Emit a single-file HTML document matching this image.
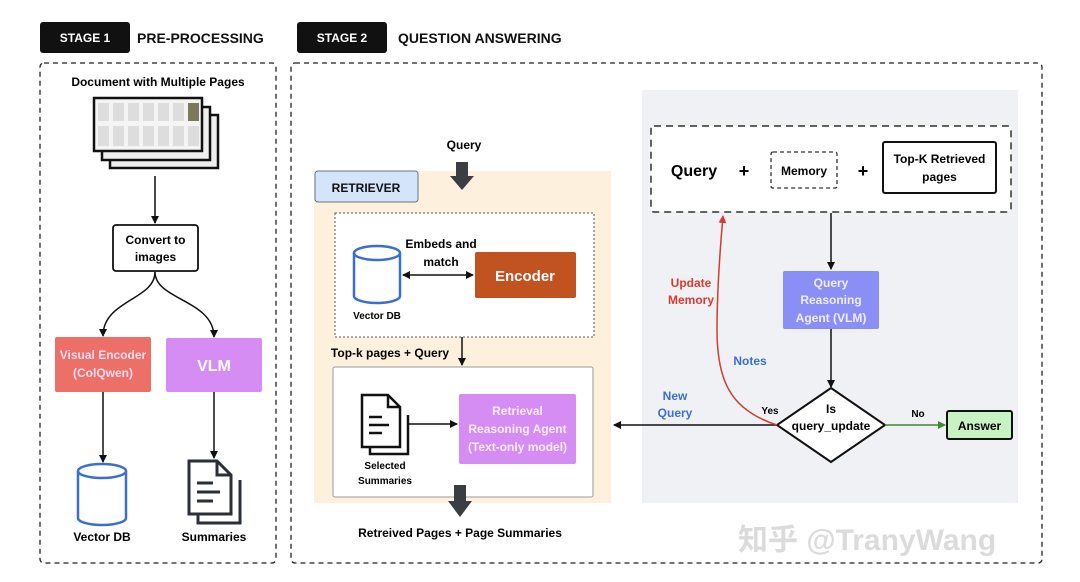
<!DOCTYPE html>
<html><head><meta charset="utf-8"><style>
html,body{margin:0;padding:0;background:#fff}
svg{display:block}
text{font-family:"Liberation Sans","Noto Sans CJK SC",sans-serif;font-weight:bold}
</style></head><body>
<svg width="1080" height="582" viewBox="0 0 1080 582" xmlns="http://www.w3.org/2000/svg">
<defs>
<marker id="a" markerWidth="8" markerHeight="8" refX="7" refY="4" orient="auto" markerUnits="userSpaceOnUse"><path d="M0,0 L8,4 L0,8 z" fill="#111"/></marker>
<marker id="ar" markerWidth="8" markerHeight="8" refX="7" refY="4" orient="auto" markerUnits="userSpaceOnUse"><path d="M0,0 L8,4 L0,8 z" fill="#d63b30"/></marker>
<marker id="ag" markerWidth="8" markerHeight="8" refX="7" refY="4" orient="auto" markerUnits="userSpaceOnUse"><path d="M0,0 L8,4 L0,8 z" fill="#3a8a2e"/></marker>
<marker id="as" markerWidth="8" markerHeight="8" refX="1" refY="4" orient="auto" markerUnits="userSpaceOnUse"><path d="M8,0 L0,4 L8,8 z" fill="#111"/></marker>
</defs>
<rect x="40" y="22" width="90" height="31" rx="3" fill="#111"/>
<text x="85" y="42" fill="#fff" font-size="12" text-anchor="middle">STAGE 1</text>
<text x="137" y="43" font-size="14" fill="#111">PRE-PROCESSING</text>
<rect x="297" y="22" width="90" height="31" rx="3" fill="#111"/>
<text x="342" y="42" fill="#fff" font-size="12" text-anchor="middle">STAGE 2</text>
<text x="398" y="43" font-size="14" fill="#111">QUESTION ANSWERING</text>
<rect x="40" y="63" width="236" height="500" rx="4" fill="none" stroke="#222" stroke-width="1.3" stroke-dasharray="5,4"/>
<rect x="291" y="63" width="751" height="500" rx="4" fill="none" stroke="#222" stroke-width="1.3" stroke-dasharray="5,4"/>
<text x="158" y="86" font-size="12" text-anchor="middle">Document with Multiple Pages</text>
<rect x="110" y="115" width="108" height="53" fill="#eee" stroke="#111" stroke-width="2.5"/>
<rect x="102" y="107" width="108" height="53" fill="#eee" stroke="#111" stroke-width="2.5"/>
<rect x="94" y="98" width="108" height="53" fill="#f4f4f4" stroke="#111" stroke-width="2.5"/>
<g fill="#ddd"><rect x="98" y="103" width="11" height="18"/><rect x="113" y="103" width="11" height="18"/><rect x="128" y="103" width="11" height="18"/><rect x="143" y="103" width="11" height="18"/><rect x="158" y="103" width="11" height="18"/><rect x="173" y="103" width="11" height="18"/><rect x="188" y="103" width="11" height="18" fill="#7a7a5a"/>
<rect x="98" y="126" width="11" height="20"/><rect x="113" y="126" width="11" height="20"/><rect x="128" y="126" width="11" height="20"/><rect x="143" y="126" width="11" height="20"/><rect x="158" y="126" width="11" height="20"/><rect x="173" y="126" width="11" height="20"/><rect x="188" y="126" width="11" height="20"/></g>
<line x1="155" y1="176" x2="155" y2="223" stroke="#111" stroke-width="1.5" marker-end="url(#a)"/>
<rect x="113" y="225" width="85" height="46" rx="3" fill="#fff" stroke="#111" stroke-width="1.8"/>
<text x="155.5" y="244" font-size="12" text-anchor="middle">Convert to</text>
<text x="155.5" y="261" font-size="12" text-anchor="middle">images</text>
<path d="M155,272 C155,300 103,300 103,336" fill="none" stroke="#111" stroke-width="1.5" marker-end="url(#a)"/>
<path d="M155,272 C155,300 214,300 214,337" fill="none" stroke="#111" stroke-width="1.5" marker-end="url(#a)"/>
<rect x="55" y="337" width="96" height="55" rx="2" fill="#ec6f68"/>
<text x="103" y="359" font-size="12" fill="#fde" text-anchor="middle">Visual Encoder</text>
<text x="103" y="377" font-size="12" fill="#fde" text-anchor="middle">(ColQwen)</text>
<rect x="166" y="338" width="96" height="54" rx="2" fill="#d58cf3"/>
<text x="214" y="371" font-size="16" fill="#fff" text-anchor="middle">VLM</text>
<line x1="103" y1="392" x2="103" y2="462" stroke="#111" stroke-width="1.5" marker-end="url(#a)"/>
<line x1="214" y1="392" x2="214" y2="458" stroke="#111" stroke-width="1.5" marker-end="url(#a)"/>
<g fill="#fff" stroke="#3a6fd0" stroke-width="2.5"><path d="M78,471 L78,518 A24,7 0 0 0 126,518 L126,471"/><ellipse cx="102" cy="471" rx="24" ry="7"/></g>
<text x="102" y="541" font-size="12" text-anchor="middle">Vector DB</text>
<g fill="none" stroke="#2a2f38" stroke-width="3"><path d="M198,470 L198,523 L240,523 L240,480"/><path d="M189,461 L217,461 L231,475 L231,514 L189,514 Z" fill="#fff"/><path d="M217,461 L217,475 L231,475"/><line x1="197" y1="483" x2="213" y2="483"/><line x1="197" y1="492" x2="220" y2="492"/><line x1="197" y1="501" x2="213" y2="501"/></g>
<text x="214" y="541" font-size="12" text-anchor="middle">Summaries</text>
<text x="464" y="149" font-size="12" text-anchor="middle">Query</text>
<rect x="314" y="171" width="297" height="332" fill="#fdf1de"/>
<rect x="456" y="162" width="12" height="16" fill="#3a3d42"/><path d="M450,176 L474,176 L462,190 z" fill="#3a3d42"/>
<rect x="315" y="171" width="103" height="31" rx="3" fill="#d4e4fb" stroke="#6b7380" stroke-width="1"/>
<text x="366" y="192" font-size="12" text-anchor="middle" fill="#111">RETRIEVER</text>
<rect x="335" y="213" width="259" height="124" fill="#fff" stroke="#555" stroke-width="1" stroke-dasharray="2,2"/>
<g fill="#fff" stroke="#3a6fd0" stroke-width="2.5"><path d="M354,253 L354,296 A23,7 0 0 0 400,296 L400,253"/><ellipse cx="377" cy="253" rx="23" ry="7"/></g>
<text x="377" y="319" font-size="10" text-anchor="middle">Vector DB</text>
<text x="441" y="248" font-size="12" text-anchor="middle">Embeds and</text>
<text x="441" y="266" font-size="12" text-anchor="middle">match</text>
<line x1="403" y1="275" x2="473" y2="275" stroke="#111" stroke-width="1.5" marker-end="url(#a)" marker-start="url(#as)"/>
<rect x="475" y="252" width="101" height="46" rx="2" fill="#c0531f"/>
<text x="525" y="281" font-size="15" fill="#fff" text-anchor="middle">Encoder</text>
<line x1="462" y1="337" x2="462" y2="365" stroke="#111" stroke-width="1.5" marker-end="url(#a)"/>
<text x="390" y="357" font-size="12" text-anchor="middle">Top-k pages + Query</text>
<rect x="333" y="367" width="260" height="130" rx="2" fill="#fff" stroke="#999" stroke-width="1"/>
<g fill="none" stroke="#111" stroke-width="2.5"><path d="M370,403 L370,454 L408,454 L408,415"/><path d="M362,395 L388,395 L400,407 L400,447 L362,447 Z" fill="#fff"/><path d="M388,395 L388,407 L400,407"/><line x1="369" y1="417" x2="382" y2="417"/><line x1="369" y1="425" x2="389" y2="425"/><line x1="369" y1="433" x2="382" y2="433"/></g>
<text x="385" y="469" font-size="10" text-anchor="middle">Selected</text>
<text x="385" y="484" font-size="10" text-anchor="middle">Summaries</text>
<line x1="409" y1="424" x2="457" y2="424" stroke="#111" stroke-width="1.5" marker-end="url(#a)"/>
<rect x="459" y="394" width="117" height="70" rx="2" fill="#d58cf3"/>
<text x="517.5" y="415" font-size="12" fill="#fbeefe" text-anchor="middle">Retrieval</text>
<text x="517.5" y="433" font-size="12" fill="#fbeefe" text-anchor="middle">Reasoning Agent</text>
<text x="517.5" y="451" font-size="12" fill="#fbeefe" text-anchor="middle">(Text-only model)</text>
<rect x="454" y="485" width="12" height="18" fill="#3a3d42"/><path d="M448,501 L472,501 L460,517 z" fill="#3a3d42"/>
<text x="460" y="537" font-size="12" text-anchor="middle">Retreived Pages + Page Summaries</text>
<rect x="642" y="90" width="376" height="413" fill="#f0f1f4"/>
<rect x="651" y="126" width="360" height="86" rx="3" fill="#fff" stroke="#333" stroke-width="1.5" stroke-dasharray="7,5"/>
<text x="694" y="176" font-size="16" text-anchor="middle">Query</text>
<text x="744" y="177" font-size="18" text-anchor="middle">+</text>
<rect x="771" y="152" width="66" height="36" rx="2" fill="#fff" stroke="#333" stroke-width="1.3" stroke-dasharray="4,3"/>
<text x="804" y="175" font-size="12" text-anchor="middle">Memory</text>
<text x="863" y="177" font-size="18" text-anchor="middle">+</text>
<rect x="883" y="142" width="113" height="51" rx="2" fill="#fff" stroke="#111" stroke-width="2"/>
<text x="939.5" y="163" font-size="12" text-anchor="middle">Top-K Retrieved</text>
<text x="939.5" y="181" font-size="12" text-anchor="middle">pages</text>
<line x1="831" y1="213" x2="831" y2="269" stroke="#111" stroke-width="1.5" marker-end="url(#a)"/>
<rect x="783" y="271" width="96" height="58" rx="2" fill="#8a8ff6"/>
<text x="831" y="287" font-size="12" fill="#eef" text-anchor="middle">Query</text>
<text x="831" y="304" font-size="12" fill="#eef" text-anchor="middle">Reasoning</text>
<text x="831" y="322" font-size="12" fill="#eef" text-anchor="middle">Agent (VLM)</text>
<line x1="831" y1="329" x2="831" y2="387" stroke="#111" stroke-width="1.5" marker-end="url(#a)"/>
<path d="M831,388 L885,425 L831,462 L777,425 Z" fill="#fff" stroke="#111" stroke-width="2"/>
<text x="831" y="413" font-size="12" text-anchor="middle">Is</text>
<text x="831" y="430" font-size="12" text-anchor="middle">query_update</text>
<line x1="885" y1="425" x2="945" y2="425" stroke="#3a8a2e" stroke-width="1.5" marker-end="url(#ag)"/>
<text x="918" y="417" font-size="10" text-anchor="middle">No</text>
<rect x="947" y="411" width="65" height="28" rx="2" fill="#c9f2c4" stroke="#111" stroke-width="2"/>
<text x="979.5" y="430" font-size="12" text-anchor="middle">Answer</text>
<line x1="777" y1="425" x2="614" y2="425" stroke="#111" stroke-width="1.5" marker-end="url(#a)"/>
<text x="770" y="414" font-size="10" text-anchor="middle">Yes</text>
<text x="675" y="400" font-size="12" fill="#3b6fd0" text-anchor="middle">New</text>
<text x="675" y="417" font-size="12" fill="#3b6fd0" text-anchor="middle">Query</text>
<text x="750" y="365" font-size="12" fill="#3b6fd0" text-anchor="middle">Notes</text>
<path d="M777,425 C730,410 717,380 717,330 C717,290 720,250 723,216" fill="none" stroke="#d63b30" stroke-width="1.5" marker-end="url(#ar)"/>
<text x="691" y="287" font-size="12" fill="#d63b30" text-anchor="middle">Update</text>
<text x="691" y="304" font-size="12" fill="#d63b30" text-anchor="middle">Memory</text>
<text x="738" y="550" font-size="30" fill="#d0d0d0" font-weight="normal" opacity="0.75">知乎 @TranyWang</text>
</svg>
</body></html>
